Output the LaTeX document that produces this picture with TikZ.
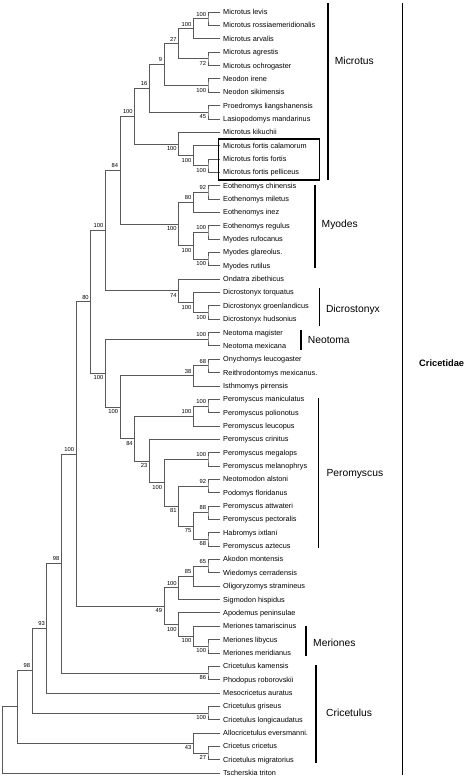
\documentclass[tikz,border=0pt]{standalone}
\usepackage{fontspec}
\setmainfont{Liberation Sans}
\usetikzlibrary{calc}
\tikzset{
    branch/.style = { draw=black!65, line width=0.6pt },
      leaf/.style = { anchor=west, inner xsep=3pt, inner ysep=0pt, text height=5.2pt, text depth=0pt,
                      font=\fontsize{7.3}{8}\selectfont },
      boot/.style = { inner xsep=1.8pt, inner ysep=2.4pt, font=\fontsize{5.8}{6}\selectfont },
       bar/.style = { line width=1.6pt },
     group/.style = { anchor=west, inner sep=0pt, text height=7.4pt, text depth=0pt,
                      font=\fontsize{10.3}{12}\selectfont },
    family/.style = { group, text height=6.7pt, font=\fontsize{9.3}{11}\selectfont\bfseries },
  framebox/.style = { draw, line width=1.1pt }
}
\newcommand*{\tipx}{220}

\begin{document}
\begin{tikzpicture}[x=1pt, y=-1pt]
  \useasboundingbox (0,0) rectangle (474,779);
  % leaves
  \foreach \name [count=\i] in {Microtus levis, Microtus rossiaemeridionalis, Microtus arvalis,
      Microtus agrestis, Microtus ochrogaster, Neodon irene, Neodon sikimensis,
      Proedromys liangshanensis, Lasiopodomys mandarinus, Microtus kikuchii,
      Microtus fortis calamorum, Microtus fortis fortis, Microtus fortis pelliceus,
      Eothenomys chinensis, Eothenomys miletus, Eothenomys inez, Eothenomys regulus,
      Myodes rufocanus, Myodes glareolus., Myodes rutilus, Ondatra zibethicus,
      Dicrostonyx torquatus, Dicrostonyx groenlandicus, Dicrostonyx hudsonius,
      Neotoma magister, Neotoma mexicana, Onychomys leucogaster, Reithrodontomys mexicanus.,
      Isthmomys pirrensis, Peromyscus maniculatus, Peromyscus polionotus, Peromyscus leucopus,
      Peromyscus crinitus, Peromyscus megalops, Peromyscus melanophrys, Neotomodon alstoni,
      Podomys floridanus, Peromyscus attwateri, Peromyscus pectoralis, Habromys ixtlani,
      Peromyscus aztecus, Akodon montensis, Wiedomys cerradensis, Oligoryzomys stramineus,
      Sigmodon hispidus, Apodemus peninsulae, Meriones tamariscinus, Meriones libycus,
      Meriones meridianus, Cricetulus kamensis, Phodopus roborovskii, Mesocricetus auratus,
      Cricetulus griseus, Cricetulus longicaudatus, Allocricetulus eversmanni.,
      Cricetus cricetus, Cricetulus migratorius, Tscherskia triton} {
    \coordinate (t\i) at (\tipx, {12+(\i-1)*13.35});
    \node[leaf] (l\i) at (t\i) {\name};
  }

  % clades: name/level/upper/lower/bootstrap/label anchor
  \foreach \cn/\lev/\cu/\cd/\bv/\side in {
      a1/1/t1/t2/100/south east, a2/2/a1/t3/100/south east, a3/1/t4/t5/72/north east,
      a4/3/a2/a3/27/south east, a5/1/t6/t7/100/north east, a6/4/a4/a5/9/south east,
      a7/1/t8/t9/45/north east, a8/5/a6/a7/16/south east, a9/1/t12/t13/100/north east,
      a10/2/t11/a9/100/north east, a11/3/t10/a10/100/north east, a12/6/a8/a11/100/south east,
      b1/1/t14/t15/92/south east, b2/2/b1/t16/80/south east, b3/1/t17/t18/100/south east,
      b4/1/t19/t20/100/north east, b5/2/b3/b4/100/north east, b6/3/b2/b5/100/north east,
      a13/7/a12/b6/84/south east,
      d1/1/t23/t24/100/north east, d2/2/t22/d1/100/north east, d3/3/t21/d2/74/north east,
      e1/8/a13/d3/100/south east,
      f1/1/t25/t26/100/south east, g1/1/t27/t28/68/south east, g2/2/g1/t29/38/south east,
      p1/1/t30/t31/100/south east, p2/2/p1/t32/100/south east, p3/1/t34/t35/100/south east,
      p4/1/t36/t37/92/south east, p5/1/t38/t39/88/south east, p6/1/t40/t41/68/north east,
      p7/2/p5/p6/75/north east, p8/3/p4/p7/81/north east, p9/4/p3/p8/100/north east,
      p10/5/t33/p9/23/north east, p11/6/p2/p10/84/north east,
      g3/7/g2/p11/100/north east, f2/8/f1/g3/100/north east, e2/9/e1/f2/80/south east,
      s1/1/t42/t43/65/south east, s2/2/s1/t44/85/south east, s3/3/s2/t45/100/south east,
      m1/1/t48/t49/100/north east, m2/2/t47/m1/100/north east, m3/3/t46/m2/100/north east,
      s4/4/s3/m3/49/north east, r1/10/e2/s4/100/south east,
      c1/1/t50/t51/86/north east, r2/11/r1/c1/98/south east, r3/12/r2/t52/93/south east,
      c2/1/t53/t54/100/north east, r4/13/r3/c2/98/south east,
      c3/1/t56/t57/27/north east, c4/2/t55/c3/43/north east} {
    \path ($(\cu)!0.5!(\cd)$) coordinate (mid);
    \pgfmathsetmacro{\xlev}{222.66-14.66*\lev}
    \coordinate (\cn) at (mid -| \xlev,0);
    \draw[branch] (\cu) -| (\cn) |- (\cd);
    \node[boot, anchor=\side] (bs-\cn) at (\cn) {\bv};
  }
  \path ($(r4)!0.5!(c4)$) coordinate (mid);
  \coordinate (r5) at (mid -| 17.42,0);
  \draw[branch] (r4) -| (r5) |- (c4);
  \path ($(r5)!0.5!(t58)$) coordinate (mid);
  \coordinate (root) at (mid -| 2.76,0);
  \draw[branch] (r5) -| (root) |- (t58);

  % Microtus fortis box
  \draw[framebox] (218.3,139) rectangle (319.3,180);

  % genus bars
  \foreach \name/\x/\top/\bot/\ly/\dx in {Microtus/327.7/3.3/180/61/7,
      Myodes/315/185/267.7/224/6.5, Dicrostonyx/319.3/288.3/326/309/6.5,
      Neotoma/300.7/330/350/340/7, Peromyscus/318.3/398/548/472.7/8,
      Meriones/306/626/656/642.3/7, Cricetulus/316/665/763.3/712.3/10} {
    \draw[bar] (\x,\top) -- (\x,\bot);
    \node[group] (\name) at ({\x+\dx},\ly) {\name};
  }
  \draw[bar] (402.3,2.7) -- (402.3,775);
  \node[family] (Cricetidae) at (419,363.3) {Cricetidae};
\end{tikzpicture}
\end{document}
